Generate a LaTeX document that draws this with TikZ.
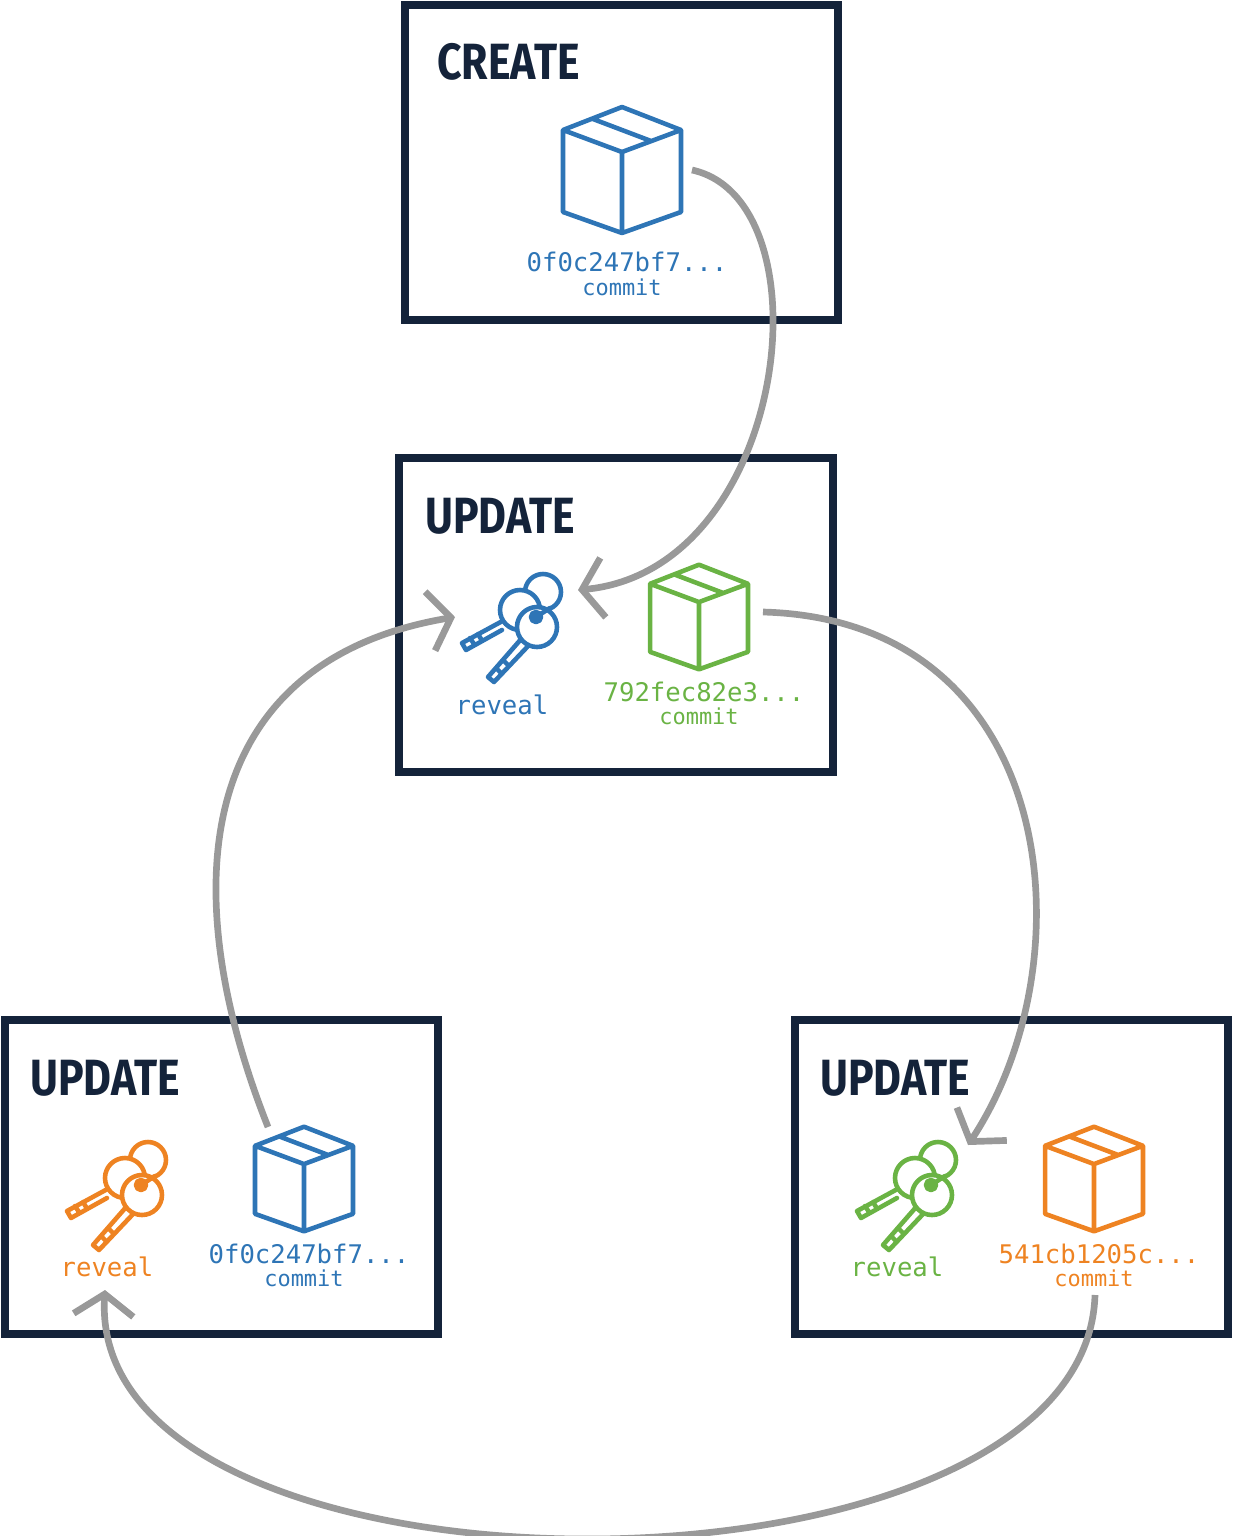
\documentclass[tikz,border=0pt]{standalone}
\usepackage{fontspec}
\usepackage{xcolor}
\usetikzlibrary{arrows.meta}
\newfontfamily\titlefont[FakeStretch=0.84]{Fira Sans}
\newfontfamily\hashfont{DejaVu Sans Mono}
\definecolor{navy}{HTML}{14233A}
\definecolor{cblue}{HTML}{2E75B6}
\definecolor{cgreen}{HTML}{6AB344}
\definecolor{corange}{HTML}{EE8322}
\definecolor{cgray}{HTML}{999999}

% cube icon: #1 colour
\newcommand{\cubeicon}[1]{%
    \draw[#1, line width=2.6pt, line join=round]
        (0,-63) -- (59,-40) -- (59,42) -- (0,63) -- (-59,42) -- (-59,-40) -- cycle
        (-59,-40) -- (0,-18) -- (59,-40) (0,-18) -- (0,63)
        (-29,-51) -- (29,-29);
}
% keys icon: #1 colour
\newcommand{\keysicon}[1]{%
    \begin{scope}[#1, line width=2.6pt, line join=round, line cap=round]
        \draw (33,-30) circle (18);
        \draw[fill=white] (-2,-4) -- (-48,21) -- (-44,28) -- (-8,8) (-40,16) -- (-36,22) (-32,12) -- (-29,17);
        \draw[fill=white] (10,-12) circle (20);
        \draw[fill=white] (12,16) -- (-22,55) -- (-16,60) -- (20,22) (-14,46) -- (-9,51) (-7,38) -- (-2,43);
        \draw[fill=white] (27,5) circle (20);
        \draw (26,-5) circle (5) (26,-5) -- (40,-14);
    \end{scope}
}

\tikzset{
    stage/.style={draw=navy, line width=4.6pt},
    title/.style={font=\titlefont\bfseries\fontsize{29}{30}\selectfont, text=navy, anchor=west, inner sep=0pt},
    hash/.style={font=\hashfont\fontsize{14.6}{15}\selectfont, inner sep=0pt},
    sub/.style={font=\hashfont\fontsize{12.5}{13}\selectfont, inner sep=0pt},
    link/.style={draw=cgray, line width=3.8pt, -{Straight Barb[length=12pt,width=34pt,line width=3.8pt]}},
}

\begin{document}
\begin{tikzpicture}[x=0.02cm, y=-0.02cm]
    \useasboundingbox (0,0) rectangle (1232,1536);

    % stages
    \draw[stage] (405,5) rectangle (838,320);
    \node[title] (tcreate) at (437,62) {CREATE};
    \draw[stage] (399,458) rectangle (833,772);
    \node[title] (tupd) at (425,516) {UPDATE};
    \draw[stage] (5,1020) rectangle (438,1334);
    \node[title] (tleft) at (30,1078) {UPDATE};
    \draw[stage] (795,1020) rectangle (1228,1334);
    \node[title] (tright) at (820,1078) {UPDATE};

    % CREATE content
    \begin{scope}[shift={(622,170)}] \cubeicon{cblue} \end{scope}
    \node[hash, text=cblue] (hcreate) at (627,262) {0f0c247bf7...};
    \node[sub, text=cblue] (ccreate) at (622,287) {commit};

    % middle UPDATE content
    \begin{scope}[shift={(510,622)}] \keysicon{cblue} \end{scope}
    \node[hash, text=cblue] (rupd) at (502,705) {reveal};
    \begin{scope}[shift={(699,617)}, scale=0.83] \cubeicon{cgreen} \end{scope}
    \node[hash, text=cgreen] (hupd) at (704,692) {792fec82e3...};
    \node[sub, text=cgreen] (cupd) at (699,716) {commit};

    % left UPDATE content
    \begin{scope}[shift={(115,1190)}] \keysicon{corange} \end{scope}
    \node[hash, text=corange] (rleft) at (107,1267) {reveal};
    \begin{scope}[shift={(304,1179)}, scale=0.83] \cubeicon{cblue} \end{scope}
    \node[hash, text=cblue] (hleft) at (309,1254) {0f0c247bf7...};
    \node[sub, text=cblue] (cleft) at (304,1278) {commit};

    % right UPDATE content
    \begin{scope}[shift={(905,1190)}] \keysicon{cgreen} \end{scope}
    \node[hash, text=cgreen] (rright) at (897,1267) {reveal};
    \begin{scope}[shift={(1094,1179)}, scale=0.83] \cubeicon{corange} \end{scope}
    \node[hash, text=corange] (hright) at (1099,1254) {541cb1205c...};
    \node[sub, text=corange] (cright) at (1094,1278) {commit};

    % links
    \coordinate (a1) at (692,170);
    \coordinate (k1) at (578,590);
    \coordinate (a2) at (268,1127);
    \coordinate (k2) at (455,617);
    \coordinate (a3) at (763,612);
    \coordinate (k3) at (968,1145);
    \coordinate (a4) at (1095,1295);
    \coordinate (k4) at (105,1290);
    \draw[link] (a1) .. controls (830,200) and (790,570) .. (k1);
    \draw[link] (a2) .. controls (170,880) and (200,660) .. (k2);
    \draw[link] (a3) .. controls (1060,620) and (1090,960) .. (k3);
    \draw[link] (a4) .. controls (1085,1620) and (85,1620) .. (k4);
\end{tikzpicture}
\end{document}
